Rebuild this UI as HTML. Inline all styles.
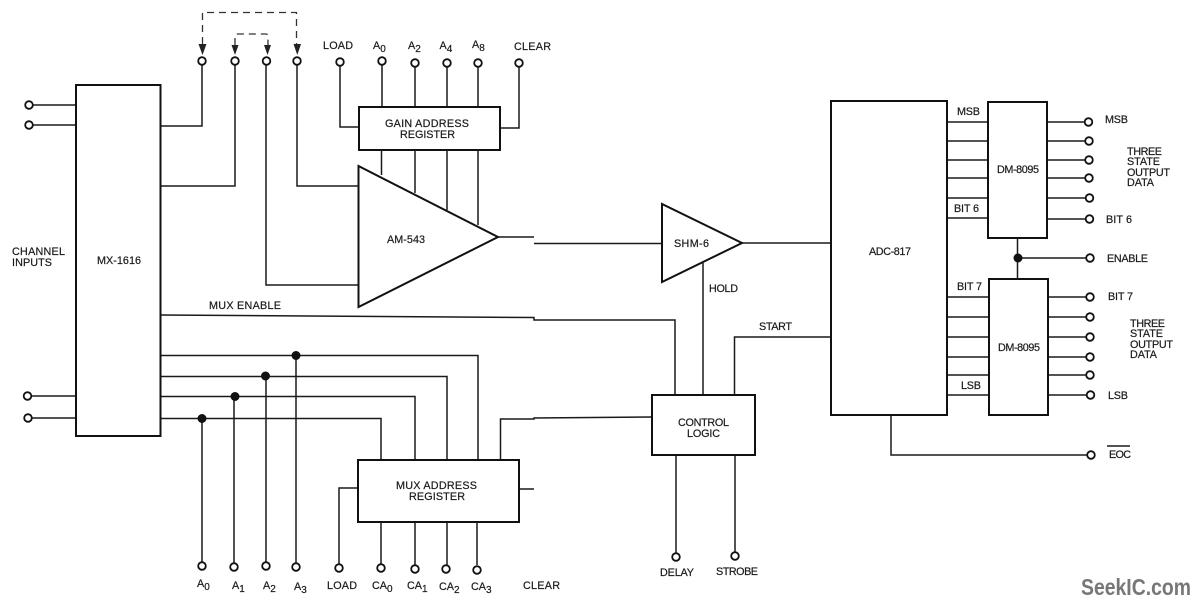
<!DOCTYPE html>
<html>
<head>
<meta charset="utf-8">
<style>
html,body{margin:0;padding:0;background:#fff;width:1200px;height:605px;overflow:hidden}
svg{display:block}
text{font-family:"Liberation Sans",sans-serif;font-size:10.8px;fill:#1a1a1a;stroke:#1a1a1a;stroke-width:.2}
.s{font-size:10px}
.w{fill:none;stroke:#1a1a1a;stroke-width:1.5}
.b{fill:#fff;stroke:#111;stroke-width:2}
.c{fill:#fff;stroke:#111;stroke-width:1.8}
.d{fill:none;stroke:#333;stroke-width:1.3;stroke-dasharray:7 5}
</style>
</head>
<body>
<svg width="1200" height="605" viewBox="0 0 1200 605" xmlns="http://www.w3.org/2000/svg">
<rect width="1200" height="605" fill="#fff"/>

<!-- dashed links -->
<path class="d" d="M202.500 44V12.500H296.500V44"/>
<path class="d" d="M235 45V36Q235 34 237 34H266Q268 34 268 36V45"/>
<path fill="#222" d="M198.500 44h8l-4 11zM231.500 45h7l-3.500 10zM264 45h7l-3.500 10zM293.500 44h7.500l-3.700 11z"/>

<!-- wires -->
<g class="w">
<path d="M32 105H76M32 125H76M31 396H76M32 418H76"/>
<path d="M160 126H202V65M160 186H235V65M266 65V285H358M297 65V186H358"/>
<path d="M340 66V127H359M382 65V107M415 67V107M447 67V107M478 67V107M519 67V128H500"/>
<path d="M498 237H534M534 243.500H662M742 243H832"/>
<path d="M703 263V394M734.500 394V337H832"/>
<path d="M160 315L534 317.500V320H675V394"/>
<path d="M160 355.500H478V460M160 376.500H447V460M160 396.500H415V460M160 418.500H381V460"/>
<path d="M202 418V562M234 396V563M266 376V562M296 355V563"/>
<path d="M339 564V488H358M381 522V564M415 522V565M447 522V565M477 522V565M519 489H534"/>
<path d="M500.500 460V419H534V418L652 417"/>
<path d="M676 455V553M735 455V552"/>
<path d="M947 122H988M947 141H988M947 160H988M947 178H988M947 198H988M947 218H988"/>
<path d="M947 297H989M947 317H989M947 337H989M947 357H989M947 375H989M947 395H989"/>
<path d="M1047 122H1085M1047 141H1085M1047 160H1085M1047 178H1085M1047 198H1086M1047 219H1086"/>
<path d="M1048 297H1087M1048 317H1087M1048 337H1087M1048 357H1087M1048 375H1087M1048 395H1087"/>
<path d="M1017.500 238V279M1018 258H1086"/>
<path d="M891 415V455H1087"/>
</g>

<!-- blocks -->
<rect class="b" x="76" y="85" width="84.500" height="351"/>
<rect class="b" x="359" y="107" width="141" height="43"/>
<path class="b" d="M358.500 166V307L498 237Z"/>
<path class="w" d="M381.500 150V175M415 150V193M447 150V210M478 150V225"/>
<path class="b" d="M662 204V282L742 243Z"/>
<rect class="b" x="358" y="460" width="161" height="62"/>
<rect class="b" x="652" y="395" width="103" height="60"/>
<rect class="b" x="831" y="101" width="116" height="314"/>
<rect class="b" x="988" y="102" width="59" height="136"/>
<rect class="b" x="989" y="279" width="59" height="136"/>

<!-- terminals -->
<g class="c">
<circle cx="29" cy="105" r="3.800"/><circle cx="29" cy="125" r="3.800"/>
<circle cx="27.500" cy="396" r="3.800"/><circle cx="28" cy="418" r="3.800"/>
<circle cx="202" cy="61" r="3.800"/><circle cx="235" cy="61" r="3.800"/><circle cx="266.500" cy="61" r="3.800"/><circle cx="297" cy="61" r="3.800"/>
<circle cx="340" cy="62" r="3.800"/><circle cx="382" cy="61" r="3.800"/><circle cx="415" cy="63" r="3.800"/><circle cx="447" cy="63" r="3.800"/><circle cx="478" cy="63" r="3.800"/><circle cx="519" cy="63" r="3.800"/>
<circle cx="202" cy="566" r="3.800"/><circle cx="234" cy="567" r="3.800"/><circle cx="266" cy="566" r="3.800"/><circle cx="296" cy="567" r="3.800"/>
<circle cx="339" cy="568" r="3.800"/><circle cx="381" cy="568" r="3.800"/><circle cx="415" cy="569" r="3.800"/><circle cx="446" cy="569" r="3.800"/><circle cx="477" cy="570" r="3.800"/>
<circle cx="676" cy="557" r="3.800"/><circle cx="735" cy="556" r="3.800"/>
<circle cx="1088.500" cy="122" r="3.800"/><circle cx="1089" cy="141" r="3.800"/><circle cx="1089" cy="160" r="3.800"/><circle cx="1089" cy="178" r="3.800"/><circle cx="1089.500" cy="198" r="3.800"/><circle cx="1089.500" cy="219" r="3.800"/>
<circle cx="1090" cy="258" r="3.800"/>
<circle cx="1090" cy="297" r="3.800"/><circle cx="1090" cy="317" r="3.800"/><circle cx="1090" cy="337" r="3.800"/><circle cx="1090" cy="357" r="3.800"/><circle cx="1090" cy="375" r="3.800"/><circle cx="1090.500" cy="395" r="3.800"/><circle cx="1091" cy="455" r="3.800"/>
</g>

<!-- junctions -->
<g fill="#111">
<circle cx="202" cy="418.500" r="4.500"/><circle cx="235" cy="396.500" r="4.500"/><circle cx="265.500" cy="376" r="4.500"/><circle cx="296" cy="355.500" r="4.500"/><circle cx="1018" cy="258" r="4.500"/>
</g>

<!-- labels -->
<text x="12" y="255" textLength="53">CHANNEL</text>
<text x="12" y="266" textLength="40">INPUTS</text>
<text x="97" y="264" textLength="44">MX-1616</text>
<text x="323" y="49" textLength="30">LOAD</text>
<text x="373" y="49">A<tspan class="s" dy="3">0</tspan></text>
<text x="408" y="49">A<tspan class="s" dy="3">2</tspan></text>
<text x="439.500" y="49">A<tspan class="s" dy="3">4</tspan></text>
<text x="472" y="48">A<tspan class="s" dy="3">8</tspan></text>
<text x="514" y="50" textLength="37">CLEAR</text>
<text x="385" y="127" textLength="84">GAIN ADDRESS</text>
<text x="400" y="138" textLength="55">REGISTER</text>
<text x="387" y="243" textLength="38">AM-543</text>
<text x="674" y="247" textLength="35">SHM-6</text>
<text x="209" y="309" textLength="72">MUX ENABLE</text>
<text x="709" y="292" textLength="29">HOLD</text>
<text x="759" y="330" textLength="33">START</text>
<text x="678" y="426" textLength="51">CONTROL</text>
<text x="687" y="437" textLength="33">LOGIC</text>
<text x="396" y="489" textLength="81">MUX ADDRESS</text>
<text x="409" y="500" textLength="56">REGISTER</text>
<text x="660" y="576" textLength="34">DELAY</text>
<text x="716" y="575" textLength="42">STROBE</text>
<text x="197" y="587">A<tspan class="s" dy="3">0</tspan></text>
<text x="232" y="589">A<tspan class="s" dy="3">1</tspan></text>
<text x="263" y="589">A<tspan class="s" dy="3">2</tspan></text>
<text x="294" y="590">A<tspan class="s" dy="3">3</tspan></text>
<text x="327" y="589" textLength="30">LOAD</text>
<text x="372" y="589">CA<tspan class="s" dy="3">0</tspan></text>
<text x="407" y="589">CA<tspan class="s" dy="3">1</tspan></text>
<text x="439" y="590">CA<tspan class="s" dy="3">2</tspan></text>
<text x="471" y="590">CA<tspan class="s" dy="3">3</tspan></text>
<text x="523" y="589" textLength="37">CLEAR</text>
<text x="869" y="255" textLength="42">ADC-817</text>
<text x="957" y="115" textLength="23">MSB</text>
<text x="954" y="212" textLength="25">BIT 6</text>
<text x="957" y="290" textLength="25">BIT 7</text>
<text x="961" y="389" textLength="20">LSB</text>
<text x="997" y="173" textLength="42">DM-8095</text>
<text x="998" y="351" textLength="42">DM-8095</text>
<text x="1105" y="123" textLength="23">MSB</text>
<text x="1127" y="155" textLength="35">THREE</text>
<text x="1127" y="165" textLength="33">STATE</text>
<text x="1127" y="176" textLength="43">OUTPUT</text>
<text x="1127" y="186" textLength="27">DATA</text>
<text x="1106" y="223" textLength="26">BIT 6</text>
<text x="1107" y="262" textLength="41">ENABLE</text>
<text x="1108" y="300" textLength="25">BIT 7</text>
<text x="1130" y="327" textLength="35">THREE</text>
<text x="1130" y="337" textLength="33">STATE</text>
<text x="1130" y="348" textLength="43">OUTPUT</text>
<text x="1130" y="358" textLength="27">DATA</text>
<text x="1108" y="399" textLength="20">LSB</text>
<text x="1109" y="458" textLength="22">EOC</text>
<path class="w" d="M1107 446H1130"/>
<text x="1081" y="595" textLength="110" lengthAdjust="spacingAndGlyphs" style="font-size:23px;font-weight:bold;fill:#777;stroke:none">SeekIC.com</text>
</svg>
</body>
</html>
